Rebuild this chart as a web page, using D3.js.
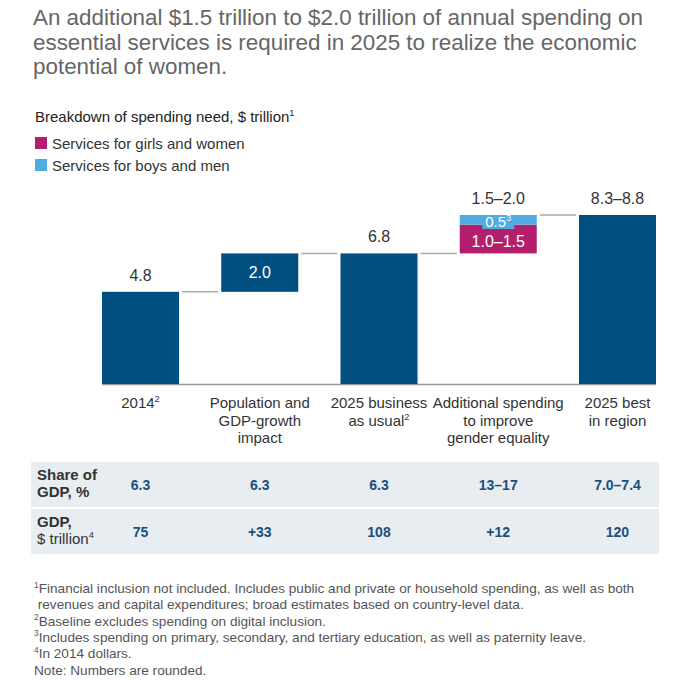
<!DOCTYPE html>
<html>
<head>
<meta charset="utf-8">
<script src="https://cdn.jsdelivr.net/npm/d3@7"></script>
<style>
  body { margin: 0; background: #fff; }
  svg { font-family: "Liberation Sans", Arial, Helvetica, sans-serif; }
</style>
</head>
<body>
<div id="chart"></div>
<script>
// ---- data ----
const titleLines = [
  "An additional $1.5 trillion to $2.0 trillion of annual spending on",
  "essential services is required in 2025 to realize the economic",
  "potential of women."
];
const subtitle = "Breakdown of spending need, $ trillion^1";
const legendItems = ["Services for girls and women", "Services for boys and men"];

const steps = ["2014", "Population and GDP-growth impact", "2025 business as usual",
               "Additional spending to improve gender equality", "2025 best in region"];
const stepLabels = [
  ["2014^2"],
  ["Population and", "GDP-growth", "impact"],
  ["2025 business", "as usual^2"],
  ["Additional spending", "to improve", "gender equality"],
  ["2025 best", "in region"]
];
const stepType = ["total", "delta", "total", "delta", "total"];
const coreValues  = [4.8, 2.0, 6.8, 0,   8.8];   // dark blue bars
const girlsValues = [0,   0,   0,   1.5, 0];
const boysValues  = [0,   0,   0,   0.5, 0];
const topLabels   = ["4.8", null, "6.8", "1.5–2.0", "8.3–8.8"];
const innerLabels = [null, "2.0", null, null, null];
const girlsLabels = [null, null, null, "1.0–1.5", null];
const boysLabels  = [null, null, null, "0.5^3", null];

const shareOfGdp = ["6.3", "6.3", "6.3", "13–17", "7.0–7.4"];
const gdpValues  = ["75", "+33", "108", "+12", "120"];
const tableRows = [
  { label: [["Share of", true], ["GDP, %", true]], values: shareOfGdp },
  { label: [["GDP,", true], ["$ trillion^4", false]], values: gdpValues }
];

const footnotes = [
  "^1Financial inclusion not included. Includes public and private or household spending, as well as both",
  " revenues and capital expenditures; broad estimates based on country-level data.",
  "^2Baseline excludes spending on digital inclusion.",
  "^3Includes spending on primary, secondary, and tertiary education, as well as paternity leave.",
  "^4In 2014 dollars.",
  "Note: Numbers are rounded."
];

// ---- styling ----
const navy = "#004f7e", pink = "#b41f6d", sky = "#4eace1";
const tableBg = "#e7edf0", tableText = "#1b4f7c";

const svg = d3.select("#chart").append("svg")
  .attr("width", 700)
  .attr("height", 681);

// text with ^n superscripts
function rich(sel, str, fs) {
  const parts = str.split("^");
  if (parts[0]) sel.append("tspan").text(parts[0]);
  parts.slice(1).forEach(p => {
    sel.append("tspan")
      .attr("font-size", fs * 0.62)
      .attr("dy", -fs * 0.4)
      .text(p[0]);
    if (p.length > 1) sel.append("tspan").attr("dy", fs * 0.4).text(p.slice(1));
  });
  return sel;
}

// title
svg.append("g").selectAll("text")
  .data(titleLines)
  .join("text")
  .attr("x", 33)
  .attr("y", (d, i) => 25 + i * 24.5)
  .attr("font-size", 22.4)
  .attr("fill", "#666")
  .text(d => d);

rich(svg.append("text").attr("x", 35).attr("y", 122)
  .attr("font-size", 15).attr("fill", "#222"), subtitle, 15);

// legend
const legend = svg.append("g").selectAll("g")
  .data(legendItems)
  .join("g")
  .attr("transform", (d, i) => `translate(35, ${137 + i * 22})`);
legend.append("rect")
  .attr("width", 12).attr("height", 12)
  .attr("fill", (d, i) => i === 0 ? pink : sky);
legend.append("text")
  .attr("x", 17).attr("y", 11.5)
  .attr("font-size", 15).attr("fill", "#333")
  .text(d => d);

// ---- waterfall ----
const x = d3.scaleBand()
  .domain(steps)
  .range([102, 656])
  .paddingInner(0.354)
  .paddingOuter(0);

const y = d3.scaleLinear()
  .domain([0, 8.8])
  .range([384, 215]);

// compute start/end of each step
let running = 0;
const bars = steps.map((s, i) => {
  const total = coreValues[i] + girlsValues[i] + boysValues[i];
  const start = stepType[i] === "total" ? 0 : running;
  const end = stepType[i] === "total" ? total : running + total;
  running = end;
  return { step: s, i, start, end };
});

// connectors
svg.append("g").selectAll("line")
  .data(bars.slice(0, -1))
  .join("line")
  .attr("x1", d => x(d.step) + x.bandwidth() + 3)
  .attr("x2", d => x(steps[d.i + 1]) - 3)
  .attr("y1", d => y(d.end))
  .attr("y2", d => y(d.end))
  .attr("stroke", "#aaa")
  .attr("stroke-width", 1.5);

// baseline
svg.append("line")
  .attr("x1", x.range()[0]).attr("x2", x.range()[1])
  .attr("y1", y(0) + 0.5).attr("y2", y(0) + 0.5)
  .attr("stroke", "#999").attr("stroke-width", 1.5);

const barG = svg.append("g");
// core (navy) segments
barG.selectAll(".core")
  .data(bars.filter(d => coreValues[d.i] > 0))
  .join("rect")
  .attr("class", "core")
  .attr("x", d => x(d.step))
  .attr("width", x.bandwidth())
  .attr("y", d => y(d.start + coreValues[d.i]))
  .attr("height", d => y(d.start) - y(d.start + coreValues[d.i]))
  .attr("fill", navy);

// girls (pink) segments
barG.selectAll(".girls")
  .data(bars.filter(d => girlsValues[d.i] > 0))
  .join("rect")
  .attr("class", "girls")
  .attr("x", d => x(d.step))
  .attr("width", x.bandwidth())
  .attr("y", d => y(d.start + coreValues[d.i] + girlsValues[d.i]))
  .attr("height", d => y(d.start + coreValues[d.i]) - y(d.start + coreValues[d.i] + girlsValues[d.i]))
  .attr("fill", pink);

// boys (blue) segments
barG.selectAll(".boys")
  .data(bars.filter(d => boysValues[d.i] > 0))
  .join("rect")
  .attr("class", "boys")
  .attr("x", d => x(d.step))
  .attr("width", x.bandwidth())
  .attr("y", d => y(d.end))
  .attr("height", d => y(d.end - boysValues[d.i]) - y(d.end))
  .attr("fill", sky);

// labels on and above bars
const labelG = svg.append("g");
bars.forEach(d => {
  const cx = x(d.step) + x.bandwidth() / 2;
  if (topLabels[d.i]) {
    labelG.append("text")
      .attr("x", cx).attr("y", y(d.end) - 11)
      .attr("text-anchor", "middle")
      .attr("font-size", 16).attr("fill", "#333")
      .text(topLabels[d.i]);
  }
  if (innerLabels[d.i]) {
    labelG.append("text")
      .attr("x", cx).attr("y", (y(d.start) + y(d.end)) / 2)
      .attr("dy", "0.36em")
      .attr("text-anchor", "middle")
      .attr("font-size", 16).attr("fill", "#fff")
      .text(innerLabels[d.i]);
  }
  if (girlsLabels[d.i]) {
    const y0 = y(d.start + coreValues[d.i]);
    const y1 = y(d.start + coreValues[d.i] + girlsValues[d.i]);
    labelG.append("text")
      .attr("x", cx).attr("y", (y0 + y1) / 2 + 2)
      .attr("dy", "0.36em")
      .attr("text-anchor", "middle")
      .attr("font-size", 16).attr("fill", "#fff")
      .text(girlsLabels[d.i]);
  }
  if (boysLabels[d.i]) {
    const t = labelG.append("text")
      .attr("x", cx).attr("y", y(d.end) + 11.5)
      .attr("text-anchor", "middle")
      .attr("font-size", 15).attr("fill", "#fff");
    rich(t, boysLabels[d.i], 15);
    const bb = t.node().getBBox();
    labelG.insert("rect", () => t.node())
      .attr("x", bb.x - 3).attr("width", bb.width + 6)
      .attr("y", y(d.end)).attr("height", 14)
      .attr("fill", sky);
  }
});

// category labels
const catG = svg.append("g").selectAll("g")
  .data(steps)
  .join("g")
  .attr("transform", d => `translate(${x(d) + x.bandwidth() / 2}, 408)`);
catG.each(function(d, i) {
  const g = d3.select(this);
  stepLabels[i].forEach((line, j) => {
    rich(g.append("text")
      .attr("y", j * 17.5)
      .attr("text-anchor", "middle")
      .attr("font-size", 15).attr("fill", "#333"), line, 15);
  });
});

// ---- table ----
const rowTop = [462, 509], rowH = 45;
tableRows.forEach((row, r) => {
  const g = svg.append("g").attr("transform", `translate(0, ${rowTop[r]})`);
  g.append("rect")
    .attr("x", 31).attr("width", 628)
    .attr("height", rowH)
    .attr("fill", tableBg);
  row.label.forEach(([txt, bold], j) => {
    rich(g.append("text")
      .attr("x", 37).attr("y", 18 + j * 17)
      .attr("font-size", 15)
      .attr("font-weight", bold ? "bold" : "normal")
      .attr("fill", "#333"), txt, 15);
  });
  g.selectAll(".val")
    .data(row.values)
    .join("text")
    .attr("class", "val")
    .attr("x", (d, i) => x(steps[i]) + x.bandwidth() / 2)
    .attr("y", rowH / 2)
    .attr("dy", "0.36em")
    .attr("text-anchor", "middle")
    .attr("font-size", 14)
    .attr("font-weight", "bold")
    .attr("fill", tableText)
    .text(d => d);
});

// ---- footnotes ----
footnotes.forEach((f, i) => {
  rich(svg.append("text")
    .attr("x", 34).attr("y", 593 + i * 16.3)
    .attr("font-size", 13.6)
    .attr("fill", "#555")
    .attr("xml:space", "preserve"), f, 13.6);
});
</script>
</body>
</html>
